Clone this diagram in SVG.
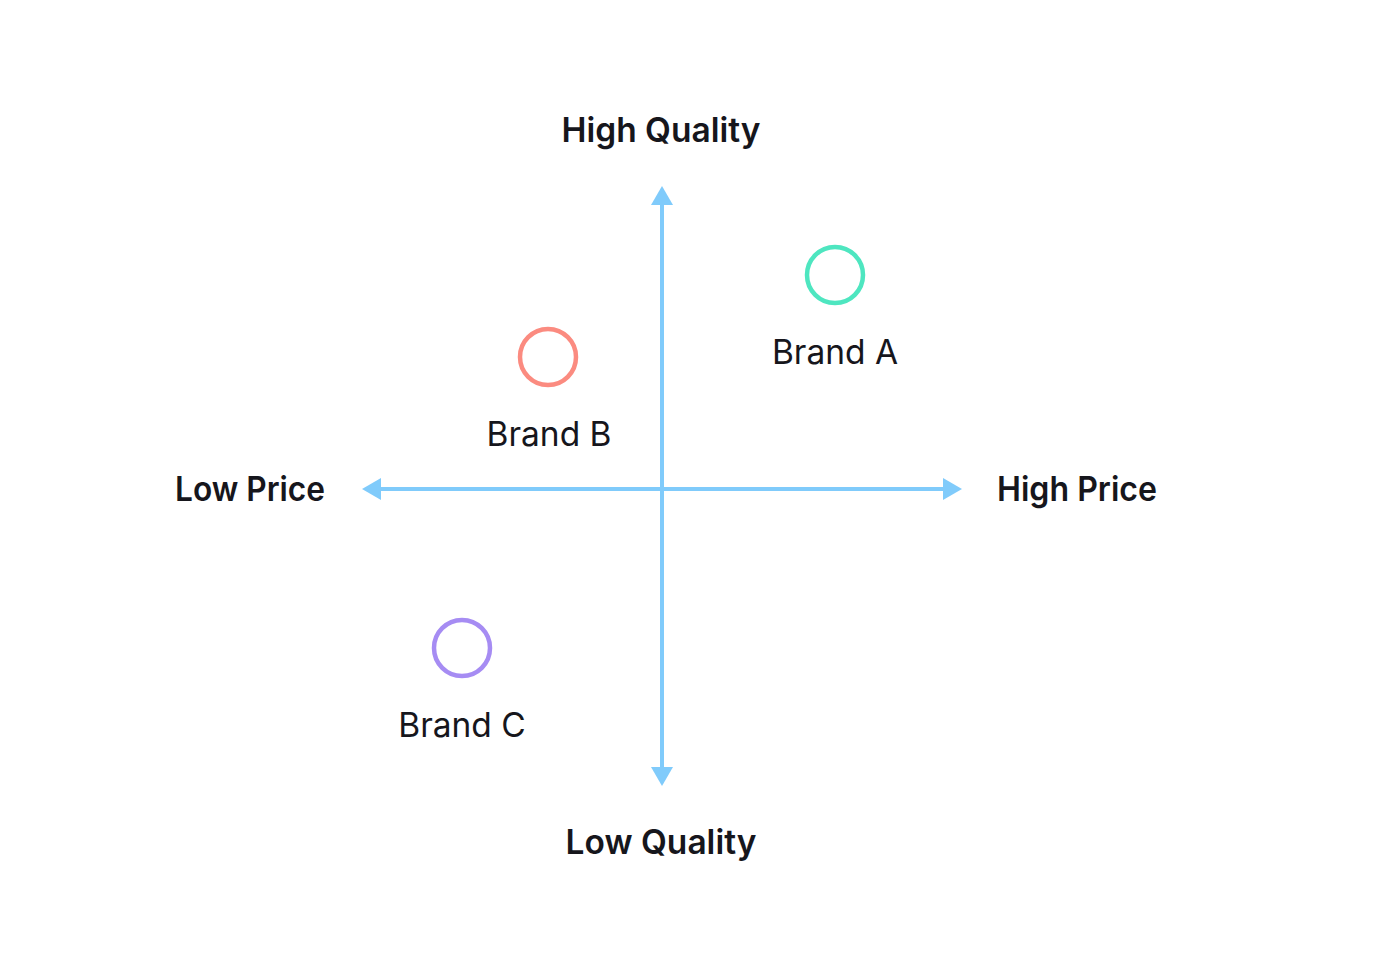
<svg xmlns="http://www.w3.org/2000/svg" width="1400" height="973" viewBox="0 0 1400 973">
<style>
.axis{stroke:#80cbfb;stroke-width:4;fill:none}
.head{fill:#80cbfb}
.title{font-family:Inter,"Liberation Sans",sans-serif;font-weight:600;font-size:33.5px;fill:#16161c;text-anchor:middle}
.brand{font-family:Inter,"Liberation Sans",sans-serif;font-weight:400;font-size:33.5px;fill:#16161c;text-anchor:middle}
.dot{fill:none;stroke-width:4.5}
</style>
<rect width="1400" height="973" fill="#ffffff"/>
<g id="connectors">
<line class="axis" x1="662" y1="200" x2="662" y2="772"/>
<line class="axis" x1="376" y1="489" x2="948" y2="489"/>
<polygon class="head" points="662,186 673,205 651,205"/>
<polygon class="head" points="662,786 673,767 651,767"/>
<polygon class="head" points="362,489 381,478 381,500"/>
<polygon class="head" points="962,489 943,478 943,500"/>
</g>
<g id="high-quality"><text class="title" x="661" y="142">High Quality</text></g>
<g id="low-quality"><text class="title" x="661" y="854">Low Quality</text></g>
<g id="low-price"><text class="title" x="250" y="501" textLength="150" lengthAdjust="spacingAndGlyphs">Low Price</text></g>
<g id="high-price"><text class="title" x="1077" y="501" textLength="160" lengthAdjust="spacingAndGlyphs">High Price</text></g>
<g id="brand-a"><circle class="dot" cx="835" cy="275" r="28" stroke="#4ee6c0"/><text class="brand" x="835" y="364">Brand A</text></g>
<g id="brand-b"><circle class="dot" cx="548" cy="357" r="28" stroke="#fb8b80"/><text class="brand" x="549" y="446">Brand B</text></g>
<g id="brand-c"><circle class="dot" cx="462" cy="648" r="28" stroke="#a68cf3"/><text class="brand" x="462" y="737">Brand C</text></g>
</svg>
